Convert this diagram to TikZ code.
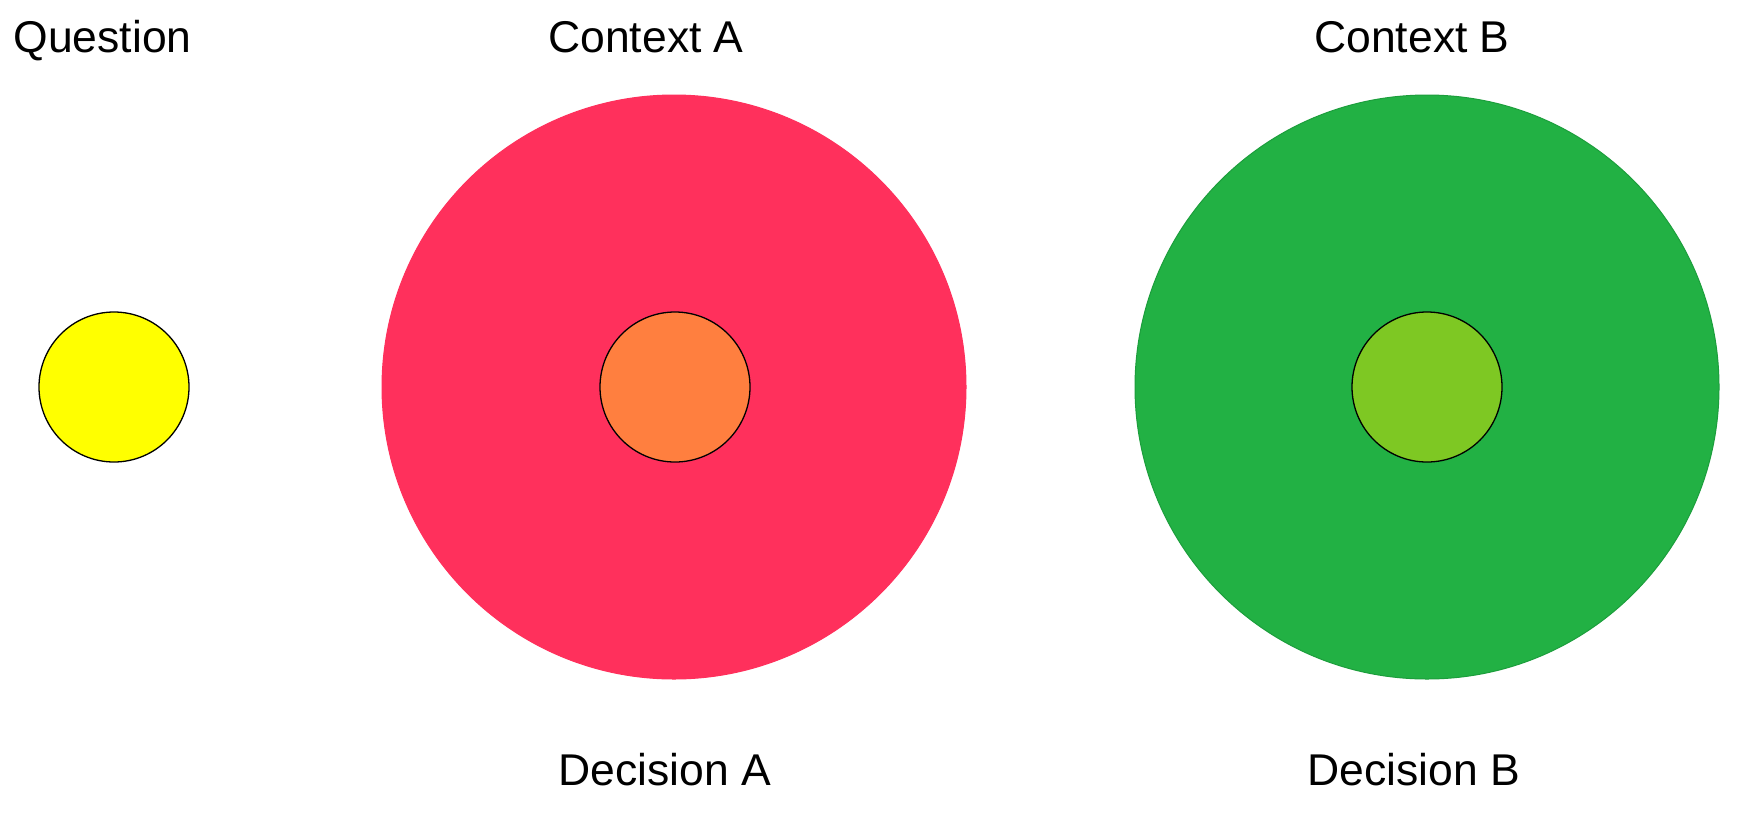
\documentclass[tikz,border=0pt]{standalone}
\usepackage{fontspec}
\setmainfont{Liberation Sans}
\definecolor{qyellow}{HTML}{FFFF00}
\definecolor{ctxred}{HTML}{FF305C}
\definecolor{decorange}{HTML}{FF7F3F}
\definecolor{ctxgreen}{HTML}{22B144}
\definecolor{ctxgreenedge}{HTML}{1C9E3C}
\definecolor{declime}{HTML}{7EC823}
\tikzset{
  big/.style={circle, minimum size=584pt, inner sep=0pt, line width=1pt},
  small/.style={circle, minimum size=150pt, inner sep=0pt, draw=black, line width=1.3pt},
  lbl/.style={anchor=base, inner sep=0pt, font=\fontsize{44.5}{53}\selectfont}
}
\begin{document}
\begin{tikzpicture}[x=1pt,y=-1pt]
\useasboundingbox[fill=white] (0,0) rectangle (1740,820);
\node[lbl] (q) at (102.5,52) {Question};
\node[lbl] (ca) at (646,52) {Context A};
\node[lbl] (cb) at (1412,52) {Context B};
\node[lbl] (da) at (665,785) {Decision A};
\node[lbl] (db) at (1414,785) {Decision B};
\node[big, fill=ctxred, draw=ctxred] (bigA) at (674,387) {};
\node[big, fill=ctxgreen, draw=ctxgreenedge] (bigB) at (1427,387) {};
\node[small, fill=qyellow] (qc) at (114,387) {};
\node[small, fill=decorange] (decA) at (675,387) {};
\node[small, fill=declime] (decB) at (1427,387) {};
\end{tikzpicture}
\end{document}
